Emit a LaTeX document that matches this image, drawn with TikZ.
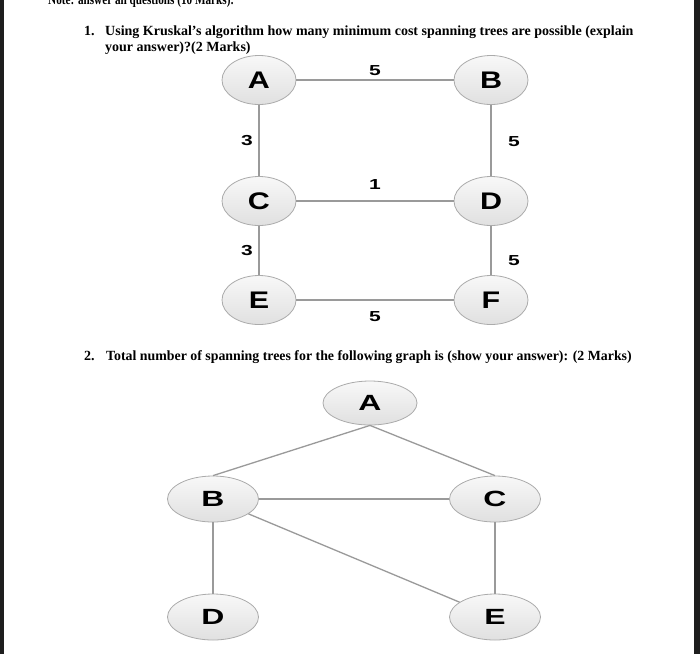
\documentclass[tikz,border=0pt]{standalone}
\usepackage{fontspec}
\setmainfont{Liberation Serif}
\newfontfamily\arialf{Liberation Sans}
\usetikzlibrary{shapes.geometric}
\definecolor{edgegray}{HTML}{9A9A9A}
\definecolor{nodeborder}{HTML}{ABABAB}
\definecolor{nodetop}{HTML}{F8F8F8}
\definecolor{nodebot}{HTML}{E0E0E0}
\definecolor{strip}{HTML}{1E1E1E}
\tikzset{
  vtx/.style={ellipse, draw=nodeborder, line width=0.8pt, top color=nodetop, bottom color=nodebot,
    inner sep=0pt},
  vone/.style={vtx, minimum width=74pt, minimum height=49pt, font=\arialf\bfseries\fontsize{24}{24}\selectfont},
  vtwo/.style={vtx, minimum width=91pt, minimum height=46pt, font=\arialf\bfseries\fontsize{22}{22}\selectfont},
  edg/.style={draw=edgegray, line width=1.3pt},
  wlab/.style={font=\arialf\bfseries\fontsize{14.5}{14.5}\selectfont, inner sep=0pt},
  qtext/.style={font=\bfseries\fontsize{14}{17}\selectfont, anchor=base west, inner sep=0pt},
}
\newcommand{\vl}[1]{\scalebox{1.27}[1]{#1}}
\newcommand{\vm}[1]{\scalebox{1.45}[1]{#1}}
\newcommand{\wl}[1]{\scalebox{1.45}[1]{#1}}
\begin{document}
\begin{tikzpicture}[x={(1pt,0)}, y={(0,-1pt)}]
\useasboundingbox (0,0) rectangle (700,654);
\clip (0,0) rectangle (700,654);
\fill[white] (0,0) rectangle (700,654);
\fill[strip] (0,0) rectangle (4,654);
\fill[strip] (694,0) rectangle (700,654);

% header texts
\node[qtext] (note) at (48,4) {\scalebox{0.8}[1]{Note: answer all questions (10 Marks):}};
\node[qtext] (q1n) at (84,35) {1.};
\node[qtext] (q1a) at (105,35) {Using Kruskal's algorithm how many minimum cost spanning trees are possible (explain};
\node[qtext] (q1b) at (105,51) {your answer)?(2 Marks)};
\node[qtext] (q2n) at (84,360) {2.};
\node[qtext] (q2a) at (106,360) {\scalebox{0.99}[1]{Total number of spanning trees for the following graph is (show your answer): (2 Marks)}};

% graph 1
\node[vone] (A) at (259,80) {\vl{A}};
\node[vone] (B) at (491,80) {\vl{B}};
\node[vone] (C) at (259,201) {\vl{C}};
\node[vone] (D) at (491,201) {\vl{D}};
\node[vone] (E) at (259,300) {\vl{E}};
\node[vone] (F) at (491,300) {\vl{F}};

\path[edg] (A) -- node[wlab, pos=0.5, yshift=9pt] {\wl{5}} (B);
\path[edg] (A) -- node[wlab, pos=0.5, xshift=-12pt] {\wl{3}} (C);
\path[edg] (B) -- node[wlab, pos=0.52, xshift=23pt] {\wl{5}} (D);
\path[edg] (C) -- node[wlab, pos=0.5, yshift=16pt] {\wl{1}} (D);
\path[edg] (C) -- node[wlab, pos=0.5, xshift=-12pt] {\wl{3}} (E);
\path[edg] (D) -- node[wlab, pos=0.7, xshift=23pt] {\wl{5}} (F);
\path[edg] (E) -- node[wlab, pos=0.5, yshift=-17pt] {\wl{5}} (F);

% graph 2
\node[vtwo, minimum width=94pt, minimum height=44pt] (A2) at (370,403) {\vm{A}};
\node[vtwo] (B2) at (213,499) {\vm{B}};
\node[vtwo] (C2) at (495,499) {\vm{C}};
\node[vtwo] (D2) at (213,617) {\vm{D}};
\node[vtwo] (E2) at (495,617) {\vm{E}};

\draw[edg] (A2.south) -- (B2.north);
\draw[edg] (A2.south) -- (C2.north);
\draw[edg] (B2) -- (C2);
\draw[edg] (B2) -- (D2);
\draw[edg] (C2) -- (E2);
\draw[edg] (B2) -- (E2);
\end{tikzpicture}
\end{document}
